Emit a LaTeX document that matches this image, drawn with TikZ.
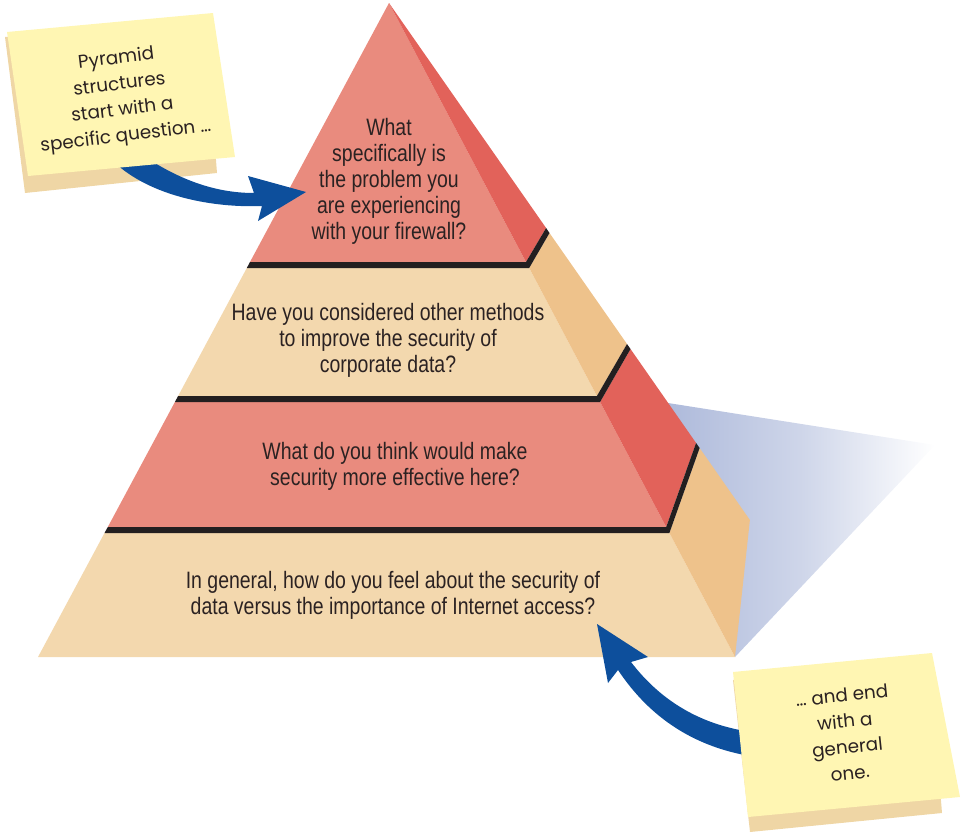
\documentclass[tikz,border=0pt]{standalone}
\usepackage{fontspec}
\newfontfamily\condfont[FakeStretch=0.82]{Liberation Sans}
\newfontfamily\handfont{Poppins}
\usetikzlibrary{calc}
\definecolor{salmon}{HTML}{E98B7E}
\definecolor{redside}{HTML}{E2625A}
\definecolor{tanfront}{HTML}{F3D8AE}
\definecolor{tanside}{HTML}{EEC28B}
\definecolor{bandblack}{HTML}{231F20}
\definecolor{txt}{HTML}{2B2222}
\definecolor{stickyyellow}{HTML}{FFF6B3}
\definecolor{stickytan}{HTML}{EFD6A5}
\definecolor{arrowblue}{HTML}{0D4F9C}
\definecolor{shadowblue}{HTML}{AEBADB}
\begin{document}
\begin{tikzpicture}[x=0.75pt,y=-0.75pt,
  tiertext/.style={font=\condfont\fontsize{17.8}{19.5}\selectfont, text=txt, align=center, inner sep=0pt},
  notetext/.style={font=\handfont\fontsize{13.8}{19.5}\selectfont, text=txt, align=center, inner sep=0pt},
  band/.style={fill=bandblack},
  bluearrow/.style={fill=arrowblue}]
\useasboundingbox (0,0) rectangle (964,832);
% shadow
\shade[left color=shadowblue, right color=white, middle color=shadowblue!60] (668,403) -- (935,445) -- (735,657) -- (700,520) -- cycle;
% tier 1
\fill[salmon] (389,3) -- (250.0,262) -- (526.0,262) -- cycle;
\fill[redside] (389,3) -- (526.0,262) -- (546.1,228) -- cycle;
% tier 2
\fill[tanfront] (246.8,268) -- (529.2,268) -- (596.9,396) -- (178.1,396) -- cycle;
\fill[tanside] (529.2,268) -- (549.5,233) -- (627.0,344) -- (596.9,396) -- cycle;
% tier 3
\fill[salmon] (174.9,402) -- (600.1,402) -- (666.2,527) -- (107.8,527) -- cycle;
\fill[redside] (600.1,402) -- (630.5,349) -- (696.1,443) -- (666.2,527) -- cycle;
% tier 4
\fill[tanfront] (104.5,533) -- (669.4,533) -- (735.0,657) -- (38.0,657) -- cycle;
\fill[tanside] (669.4,533) -- (699.6,448) -- (749.9,520) -- (735.0,657) -- cycle;
% bands
\fill[band] (250.0,262) -- (526.0,262) -- (546.1,228) -- (549.5,233) -- (529.2,268) -- (246.8,268) -- cycle;
\fill[band] (178.1,396) -- (596.9,396) -- (627.0,344) -- (630.5,349) -- (600.1,402) -- (174.9,402) -- cycle;
\fill[band] (107.8,527) -- (666.2,527) -- (696.1,443) -- (699.6,448) -- (669.4,533) -- (104.5,533) -- cycle;
% tier texts
\node[tiertext] (t1) at (389,181) {What\\specifically is\\the problem you\\are experiencing\\with your firewall?};
\node[tiertext] (t2) at (388,340) {Have you considered other methods\\to improve the security of\\corporate data?};
\node[tiertext] (t3) at (395,466) {What do you think would make\\security more effective here?};
\node[tiertext] (t4) at (393,595) {In general, how do you feel about the security of\\data versus the importance of Internet access?};
% note 1
\fill[stickytan] (5,37) -- (205,20) -- (217,173) -- (25,193) -- cycle;
\fill[bluearrow] (114,162) -- (150,160) .. controls (188,184) and (222,193) .. (254,193) -- (248,176) -- (306,192) -- (258,221) -- (262,206) .. controls (212,208) and (150,196) .. (114,162) -- cycle;
\fill[stickyyellow] (7,32) -- (213,13) -- (235,157) -- (28,176) -- cycle;
\node[notetext, rotate=7] (n1) at (121,98) {Pyramid\\structures\\start with a\\specific question \ldots};
% note 2
\fill[stickytan] (733,680) -- (930,665) -- (942,813) -- (750,832) -- cycle;
\fill[bluearrow] (597,624) -- (648,657) -- (631,662) .. controls (660,700) and (700,725) .. (752,732) -- (756,757) .. controls (695,748) and (650,718) .. (618,670) -- (608,683) -- cycle;
\fill[stickyyellow] (733,672) -- (932,653) -- (960,797) -- (748,817) -- cycle;
\node[notetext, rotate=6] (n2) at (846,734) {\ldots{} and end\\with a\\general\\one.};
\end{tikzpicture}
\end{document}
